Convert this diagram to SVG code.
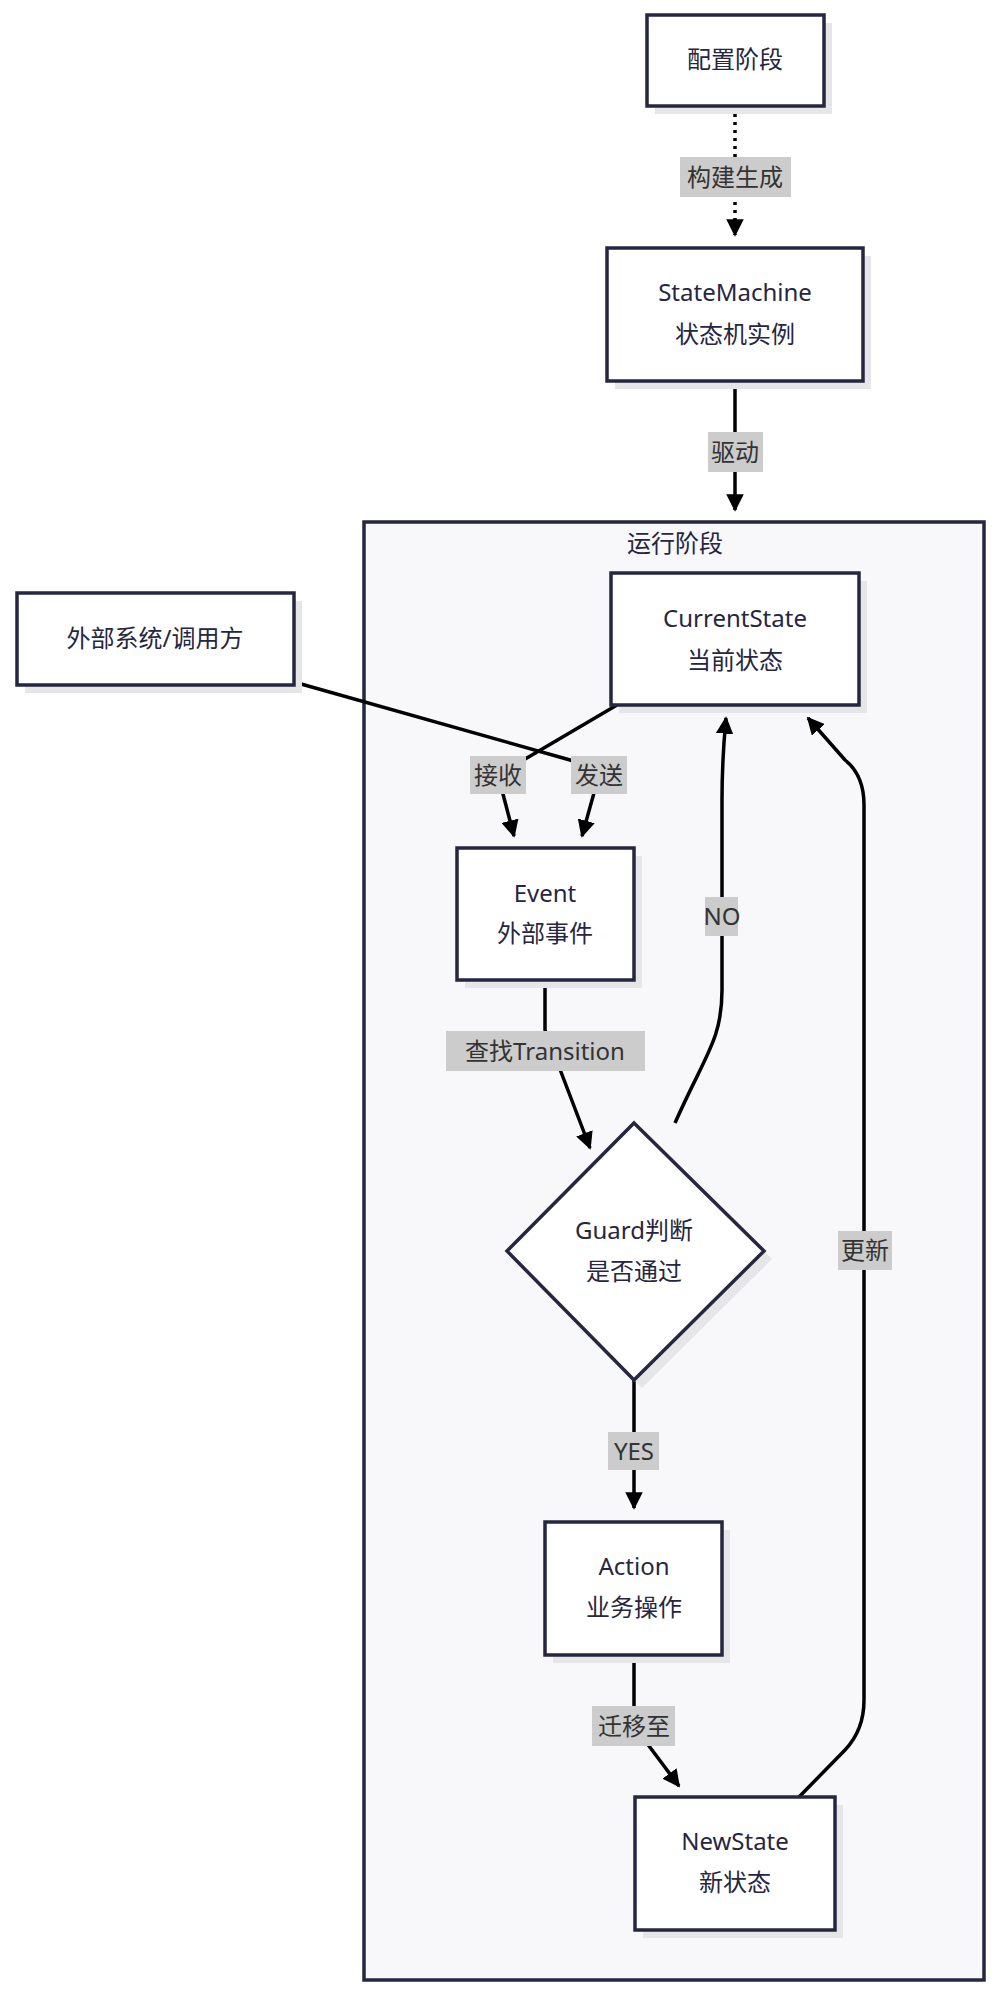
<svg xmlns="http://www.w3.org/2000/svg" width="997" height="1990" viewBox="0 0 997 1990">
<style>
.n{fill:#fff;stroke:#262640;stroke-width:3.5}
.sh{fill:#e6e6e9}
.t{font-family:"Noto Sans","Noto Sans CJK SC",sans-serif;font-size:24px;fill:#262640;text-anchor:middle}
.lb{fill:#cccccc}
.lt{font-family:"Noto Sans","Noto Sans CJK SC",sans-serif;font-size:24px;fill:#333;text-anchor:middle}
.e{fill:none;stroke:#000;stroke-width:3.5}
</style>
<defs><marker id="a" viewBox="0 0 10 10" refX="9" refY="5" markerWidth="5" markerHeight="5" orient="auto"><path d="M0,0L10,5L0,10z" fill="#000"/></marker></defs>
<rect x="364" y="522" width="620" height="1458" fill="#f8f8fa" stroke="#262640" stroke-width="3.5"/>
<rect x="372" y="530" width="620" height="1458" fill="none" stroke="#e6e6e9" stroke-width="2" opacity="0"/>
<text class="t" x="675" y="552">运行阶段</text>
<g id="connectors">
<path class="e" d="M735,106V235" stroke-dasharray="3,5" marker-end="url(#a)"/>
<path class="e" d="M735,381V510" marker-end="url(#a)"/>
<path class="e" d="M617,705L498,775L514,836" marker-end="url(#a)"/>
<path class="e" d="M294,682L570,760L599,775L582,836" marker-end="url(#a)"/>
<path class="e" d="M545,980V1030L590,1148" marker-end="url(#a)"/>
<path class="e" d="M675,1123C705,1055 722,1040 722,990V800C722,760 724,740 726,718" marker-end="url(#a)"/>
<path class="e" d="M634,1380V1508" marker-end="url(#a)"/>
<path class="e" d="M634,1655V1726L679,1786" marker-end="url(#a)"/>
<path class="e" d="M799,1797L845,1750Q864,1730 864,1700V805Q864,775 845,760L808,718" marker-end="url(#a)"/>
<rect class="lb" x="680" y="157" width="111" height="40"/><text class="lt" x="735" y="186">构建生成</text>
<rect class="lb" x="708" y="432" width="55" height="40"/><text class="lt" x="735" y="461">驱动</text>
<rect class="lb" x="470" y="756" width="56" height="38"/><text class="lt" x="498" y="784">接收</text>
<rect class="lb" x="571" y="756" width="56" height="38"/><text class="lt" x="599" y="784">发送</text>
<rect class="lb" x="446" y="1031" width="199" height="40"/><text class="lt" x="545" y="1060">查找Transition</text>
<rect class="lb" x="705" y="897" width="33" height="39"/><text class="lt" x="722" y="925">NO</text>
<rect class="lb" x="608" y="1432" width="51" height="38"/><text class="lt" x="634" y="1460">YES</text>
<rect class="lb" x="592" y="1706" width="83" height="40"/><text class="lt" x="634" y="1735">迁移至</text>
<rect class="lb" x="838" y="1231" width="54" height="39"/><text class="lt" x="865" y="1259">更新</text>
</g>
<g id="config"><rect class="sh" x="655" y="23" width="177" height="91"/><rect class="n" x="647" y="15" width="177" height="91"/><text class="t" x="735" y="68">配置阶段</text></g>
<g id="sm"><rect class="sh" x="615" y="256" width="256" height="133"/><rect class="n" x="607" y="248" width="256" height="133"/><text class="t" x="735" y="301">StateMachine</text><text class="t" x="735" y="343">状态机实例</text></g>
<g id="current"><rect class="sh" x="619" y="581" width="248" height="132"/><rect class="n" x="611" y="573" width="248" height="132"/><text class="t" x="735" y="627">CurrentState</text><text class="t" x="735" y="669">当前状态</text></g>
<g id="external"><rect class="sh" x="25" y="601" width="277" height="92"/><rect class="n" x="17" y="593" width="277" height="92"/><text class="t" x="155" y="647">外部系统/调用方</text></g>
<g id="event"><rect class="sh" x="465" y="856" width="177" height="132"/><rect class="n" x="457" y="848" width="177" height="132"/><text class="t" x="545" y="902">Event</text><text class="t" x="545" y="942">外部事件</text></g>
<g id="guard"><path class="sh" d="M642,1131L772,1259L642,1388L515,1259z"/><path class="n" d="M634,1123L764,1251L634,1380L507,1251z"/><text class="t" x="634" y="1239">Guard判断</text><text class="t" x="634" y="1280">是否通过</text></g>
<g id="action"><rect class="sh" x="553" y="1530" width="177" height="133"/><rect class="n" x="545" y="1522" width="177" height="133"/><text class="t" x="634" y="1575">Action</text><text class="t" x="634" y="1616">业务操作</text></g>
<g id="newstate"><rect class="sh" x="643" y="1805" width="200" height="133"/><rect class="n" x="635" y="1797" width="200" height="133"/><text class="t" x="735" y="1850">NewState</text><text class="t" x="735" y="1891">新状态</text></g>
</svg>
